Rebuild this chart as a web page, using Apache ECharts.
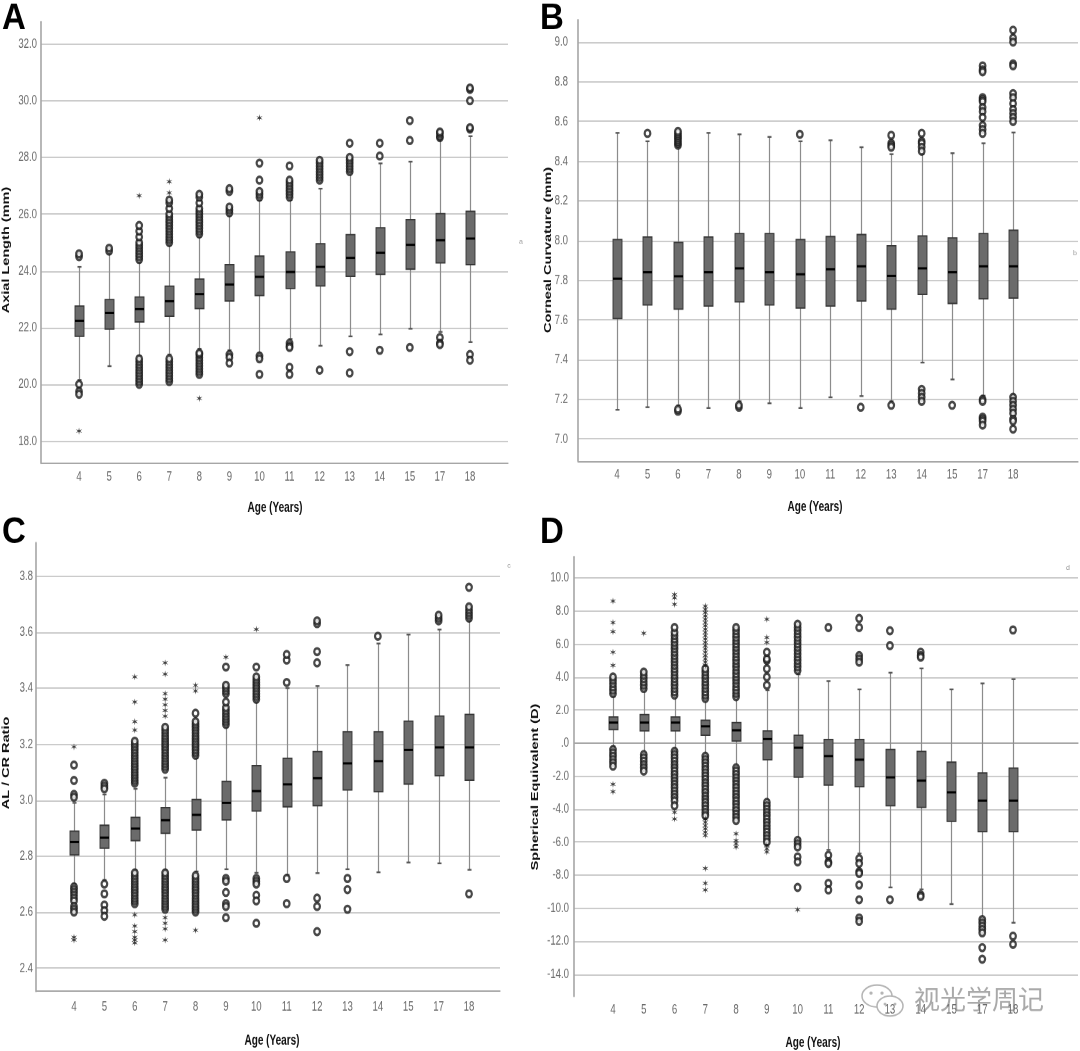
<!DOCTYPE html>
<html>
<head>
<meta charset="utf-8">
<script src="https://cdn.jsdelivr.net/npm/echarts@6/dist/echarts.min.js"></script>
<style>
html,body{margin:0;padding:0;background:#fff;overflow:hidden;}
#wrap{width:1080px;height:1051px;overflow:hidden;}
#c{width:1080px;transform-origin:0 0;}
</style>
</head>
<body>
<div id="wrap"><div id="c"></div></div>
<script>
// ---------- DATA ----------
const ages = ['4','5','6','7','8','9','10','11','12','13','14','15','17','18'];

// [lower whisker, Q1, median, Q3, upper whisker]
const alBox = [
  [20.15,21.69,22.24,22.76,24.14],[20.64,21.95,22.52,22.99,24.6],[21.0,22.2,22.65,23.08,24.3],
  [21.05,22.4,22.93,23.46,24.9],[21.25,22.67,23.18,23.71,25.2],[21.2,22.94,23.52,24.22,25.95],
  [21.1,23.13,23.79,24.52,26.5],[21.6,23.38,23.96,24.67,26.5],[21.36,23.47,24.14,24.96,26.9],
  [21.69,23.81,24.46,25.28,27.44],[21.76,23.88,24.64,25.52,27.79],[21.96,24.06,24.92,25.81,27.85],
  [21.85,24.28,25.08,26.02,28.79],[21.49,24.22,25.14,26.1,28.75]
];
const alCircles = [
  [24.5,24.6,20.0,19.75,19.65],
  [24.7,24.8],
  [24.4,24.5,24.6,24.7,24.8,24.9,25.0,25.2,25.4,25.6,20.0,20.1,20.2,20.3,20.4,20.5,20.6,20.7,20.8,20.9],
  [25.0,25.1,25.2,25.3,25.4,25.5,25.6,25.7,25.8,25.9,26.0,26.2,26.4,26.5,20.1,20.2,20.3,20.4,20.5,20.6,20.7,20.8,20.9],
  [25.3,25.4,25.5,25.6,25.7,25.8,25.9,26.0,26.1,26.2,26.4,26.6,26.7,20.35,20.45,20.55,20.65,20.75,20.85,20.95,21.05,21.1],
  [26.05,26.15,26.25,26.8,26.9,21.05,20.95,20.75],
  [26.6,26.7,26.8,27.2,27.8,21.0,20.9,20.35],
  [26.6,26.7,26.8,26.9,27.0,27.1,27.2,27.7,21.45,21.35,21.3,20.6,20.35],
  [27.2,27.3,27.4,27.5,27.6,27.7,27.8,27.9,20.5],
  [27.5,27.6,27.7,27.8,27.9,28.0,28.5,21.15,20.4],
  [28.05,28.5,21.2],
  [28.6,29.3,21.3],
  [28.7,28.75,28.85,28.9,21.65,21.45,21.4],
  [29.0,29.05,30.0,30.4,30.45,21.05,20.85]
];
const alStars = [[18.35],[],[26.65],[27.15,26.75],[19.5],[],[29.4],[],[],[],[],[],[],[]];

const ccBox = [
  [7.147,7.607,7.808,8.005,8.542],[7.16,7.675,7.84,8.018,8.50],[7.17,7.654,7.82,7.99,8.47],
  [7.156,7.67,7.84,8.018,8.542],[7.19,7.691,7.86,8.035,8.535],[7.18,7.675,7.84,8.035,8.522],
  [7.156,7.66,7.83,8.005,8.50],[7.21,7.67,7.855,8.02,8.505],[7.216,7.695,7.87,8.03,8.47],
  [7.19,7.654,7.822,7.974,8.435],[7.385,7.728,7.86,8.023,8.435],[7.30,7.683,7.84,8.013,8.44],
  [7.218,7.706,7.87,8.035,8.49],[7.223,7.71,7.87,8.052,8.544]
];
const ccCircles = [
  [],
  [8.54],
  [8.48,8.49,8.50,8.51,8.52,8.53,8.54,8.55,7.14,7.15],
  [],
  [7.16,7.17],
  [],
  [8.535],
  [],
  [7.16],
  [8.53,8.49,8.48,8.47,7.17],
  [8.54,8.50,8.49,8.47,8.45,7.25,7.23,7.21,7.19],
  [7.17],
  [8.88,8.86,8.85,8.72,8.71,8.70,8.67,8.65,8.62,8.58,8.56,8.54,7.20,7.19,7.11,7.10,7.09,7.07],
  [9.06,9.02,9.0,8.89,8.88,8.74,8.72,8.69,8.66,8.64,8.62,8.60,7.21,7.19,7.17,7.15,7.13,7.10,7.09,7.05]
];
const ccStars = [[],[],[],[],[],[],[],[],[],[],[],[],[],[]];

const arBox = [
  [2.70,2.804,2.85,2.889,2.99],[2.715,2.828,2.866,2.91,3.02],[2.75,2.855,2.898,2.938,3.04],
  [2.75,2.881,2.928,2.973,3.08],[2.745,2.893,2.947,3.002,3.15],[2.753,2.929,2.99,3.067,3.26],
  [2.74,2.961,3.032,3.123,3.35],[2.733,2.976,3.056,3.149,3.40],[2.739,2.98,3.078,3.173,3.407],
  [2.753,3.036,3.131,3.244,3.482],[2.742,3.03,3.139,3.244,3.559],[2.777,3.057,3.179,3.282,3.591],
  [2.774,3.087,3.188,3.30,3.609],[2.751,3.071,3.188,3.306,3.64]
];
const arCircles = [
  [3.125,3.07,3.02,3.01,2.69,2.68,2.67,2.66,2.65,2.64,2.62,2.61,2.60],
  [3.06,3.05,3.04,2.70,2.665,2.625,2.605,2.585],
  [3.06,3.07,3.08,3.09,3.10,3.11,3.12,3.13,3.14,3.15,3.16,3.17,3.18,3.19,3.20,3.21,
   2.63,2.64,2.65,2.66,2.67,2.68,2.69,2.70,2.71,2.72,2.73,2.74],
  [3.11,3.12,3.13,3.14,3.15,3.16,3.17,3.18,3.19,3.20,3.21,3.22,3.23,3.24,3.25,3.26,
   2.61,2.62,2.63,2.64,2.65,2.66,2.67,2.68,2.69,2.70,2.71,2.72,2.73,2.74],
  [3.16,3.17,3.18,3.19,3.20,3.21,3.22,3.23,3.24,3.25,3.26,3.27,3.28,3.31,
   2.60,2.61,2.62,2.63,2.64,2.65,2.66,2.67,2.68,2.69,2.70,2.71,2.72,2.73],
  [3.27,3.28,3.29,3.30,3.31,3.32,3.33,3.35,3.38,3.39,3.40,3.41,3.475,2.72,2.71,2.67,2.63,2.62,2.58],
  [3.36,3.37,3.38,3.39,3.40,3.41,3.42,3.43,3.44,3.475,2.72,2.71,2.70,2.66,2.64,2.56],
  [3.42,3.50,3.52,2.72,2.63],
  [3.49,3.53,3.63,3.64,2.65,2.62,2.53],
  [2.72,2.68,2.61],
  [3.585],
  [],
  [3.64,3.65,3.66],
  [3.65,3.66,3.67,3.68,3.69,3.76,2.665]
];
const arStars = [
  [3.19,2.51,2.50],
  [],
  [3.44,3.35,3.28,3.25,2.59,2.55,2.53,2.51,2.50,2.49],
  [3.49,3.45,3.38,3.36,3.34,3.32,3.30,2.58,2.56,2.54,2.50],
  [3.41,3.39,2.535],
  [3.51],
  [3.61],
  [],[],[],[],[],[],[]
];

const seBox = [
  [-0.2,0.81,1.24,1.58,2.8],[-0.6,0.73,1.24,1.72,3.2],[-0.4,0.73,1.24,1.58,2.8],
  [-0.7,0.47,1.01,1.38,2.6],[-1.4,0.12,0.77,1.24,2.7],[-3.45,-1.01,0.24,0.73,3.2],
  [-5.78,-2.07,-0.28,0.47,4.16],[-6.48,-2.55,-0.79,0.22,3.75],[-6.69,-2.65,-1.01,0.22,3.25],
  [-8.75,-3.8,-2.08,-0.39,4.26],[-8.87,-3.9,-2.28,-0.51,4.52],[-9.76,-4.75,-2.99,-1.16,3.25],
  [-10.6,-5.37,-3.49,-1.81,3.61],[-10.89,-5.37,-3.49,-1.52,3.87]
];
const seCircles = [
  [3.0,3.2,3.4,3.6,3.8,4.0,-0.4,-0.6,-0.8,-1.0,-1.2,-1.4],
  [3.3,3.5,3.7,3.9,4.1,4.3,-0.7,-0.9,-1.1,-1.3,-1.5,-1.7],
  [2.9,3.1,3.3,3.5,3.7,3.9,4.1,4.3,4.5,4.7,4.9,5.1,5.3,5.5,5.7,5.9,6.1,6.3,6.5,6.7,7.0,
   -0.5,-0.7,-0.9,-1.1,-1.3,-1.5,-1.7,-1.9,-2.1,-2.3,-2.5,-2.7,-2.9,-3.1,-3.3,-3.5,-3.8],
  [2.7,2.9,3.1,3.3,3.5,3.7,3.9,4.1,4.3,4.5,
   -0.8,-1.0,-1.2,-1.4,-1.6,-1.8,-2.0,-2.2,-2.4,-2.6,-2.8,-3.0,-3.2,-3.4,-3.6,-3.8,-4.0,-4.2,-4.4],
  [2.8,3.0,3.2,3.4,3.6,3.8,4.0,4.2,4.4,4.6,4.8,5.0,5.2,5.4,5.6,5.8,6.0,6.2,6.4,6.6,6.8,7.0,
   -1.5,-1.7,-1.9,-2.1,-2.3,-2.5,-2.7,-2.9,-3.1,-3.3,-3.5,-3.7,-3.9,-4.1,-4.3,-4.5,-4.7],
  [3.5,4.0,4.5,5.0,5.1,5.5,-3.6,-3.8,-4.0,-4.2,-4.4,-4.6,-4.8,-5.0,-5.2,-5.4,-5.6,-5.8,-6.0],
  [4.4,4.6,4.8,5.0,5.2,5.4,5.6,5.8,6.0,6.2,6.4,6.6,6.8,7.0,7.2,-5.9,-6.1,-6.3,-6.9,-7.2,-8.75],
  [7.0,-6.8,-7.2,-7.3,-8.5,-8.9],
  [7.55,7.0,5.3,5.1,4.9,-7.0,-7.3,-7.8,-7.9,-8.6,-9.5,-10.6,-10.8],
  [6.8,5.9,-9.5],
  [5.5,5.3,5.2,-9.2,-9.3],
  [],
  [-10.7,-10.9,-11.1,-11.3,-11.5,-12.4,-13.1],
  [6.85,-11.7,-12.2]
];
const seStars = [
  [8.6,7.3,6.75,5.5,4.7,-2.5,-2.95],
  [6.65],
  [9.0,8.8,8.4,-4.2,-4.6],
  [4.7,4.9,5.1,5.3,5.5,5.7,5.9,6.1,6.3,6.5,6.7,6.9,7.1,7.3,7.5,7.7,7.9,8.1,8.3,
   -4.6,-4.8,-5.0,-5.2,-5.4,-5.6,-7.6,-8.5,-8.9],
  [-5.5,-5.9,-6.1,-6.3],
  [7.5,6.4,6.1,-6.2,-6.4,-6.6],
  [-10.1],
  [],[],[],[],[],[],[]
];

// ---------- LAYOUT / STYLE ----------
// The original figure is a vertically stretched SPSS export: draw it at 1/SY height, then stretch.
const SY = 1.45;
const W = 1080, H = 1051;
const SANS = "'Liberation Sans',Arial,'DejaVu Sans',sans-serif";
const panels = [
  {letter:'A', lx:2,   ly:1,   frame:{left:41,  top:22,  width:467, height:441}, dataLeft:64,    dataWidth:421,
   min:17.224, max:32.776, step:2,   lblMargin:4,  catY:477, box:alBox, circles:alCircles, stars:alStars,
   yTitle:'Axial Length (mm)', yt:[6,250], xt:[275,508]},
  {letter:'B', lx:540, ly:1,   frame:{left:578, top:20,  width:500, height:441}, dataLeft:601.8, dataWidth:426.5,
   min:6.889, max:9.111, step:0.2,  lblMargin:10, catY:475, box:ccBox, circles:ccCircles, stars:ccStars,
   yTitle:'Corneal Curvature (mm)', yt:[548,250], xt:[815,507]},
  {letter:'C', lx:2,   ly:515, frame:{left:36,  top:543, width:464, height:448}, dataLeft:58.8,  dataWidth:425.4,
   min:2.318, max:3.918, step:0.2,  lblMargin:3,  catY:1007, box:arBox, circles:arCircles, stars:arStars,
   yTitle:'AL / CR Ratio', yt:[6,763], xt:[272,1041]},
  {letter:'D', lx:540, ly:515, frame:{left:574, top:557, width:504, height:439}, dataLeft:597.6, dataWidth:430.8,
   min:-15.33, max:11.27, step:2,   lblMargin:5,  catY:1010, box:seBox, circles:seCircles, stars:seStars,
   yTitle:'Spherical Equivalent (D)', yt:[535,787], xt:[813,1043]}
];
const LABEL_SIZE = 9.6;

const STAR = 'path://M10 0L11.5 7.4L18.66 5L13 10L18.66 15L11.5 12.6L10 20L8.5 12.6L1.34 15L7 10L1.34 5L8.5 7.4Z';

function fmtLabel(step) {
  return function (v) {
    const k = v / step;
    if (Math.abs(k - Math.round(k)) > 1e-6) return '';
    let s = (Math.round(k) * step).toFixed(1);
    if (s === '0.0' || s === '-0.0') s = '.0';
    return s;
  };
}

function renderBox(params, api) {
  const i = api.value(0);
  const pt = k => api.coord([i, api.value(k)]);
  const lo = pt(1), q1 = pt(2), md = pt(3), q3 = pt(4), hi = pt(5);
  const x = Math.round(md[0]) + 0.5, hw = 4.5, cw = 2;
  return {type: 'group', children: [
    {type: 'line', shape: {x1: x, y1: q3[1], x2: x, y2: hi[1]}, style: {stroke: '#8c8c8c', lineWidth: 1.2}},
    {type: 'line', shape: {x1: x, y1: q1[1], x2: x, y2: lo[1]}, style: {stroke: '#8c8c8c', lineWidth: 1.2}},
    {type: 'line', shape: {x1: x - cw, y1: hi[1], x2: x + cw, y2: hi[1]}, style: {stroke: '#555', lineWidth: 1.2}},
    {type: 'line', shape: {x1: x - cw, y1: lo[1], x2: x + cw, y2: lo[1]}, style: {stroke: '#555', lineWidth: 1.2}},
    {type: 'rect', shape: {x: x - hw, y: q3[1], width: 2 * hw, height: q1[1] - q3[1]},
     style: {fill: '#6b6b6b', stroke: '#363636', lineWidth: 0.9}},
    {type: 'line', shape: {x1: x - hw, y1: md[1], x2: x + hw, y2: md[1]}, style: {stroke: '#000', lineWidth: 1.5}}
  ]};
}

const grid = [], xAxis = [], yAxis = [], series = [], graphic = [];
const screenTexts = [];   // drawn in un-stretched (screen) coordinates
panels.forEach((p, n) => {
  const fg = n * 2, dg = n * 2 + 1;
  const top = p.frame.top / SY, height = p.frame.height / SY;
  grid.push({left: p.frame.left, top: top, width: p.frame.width, height: height});
  grid.push({left: p.dataLeft, top: top, width: p.dataWidth, height: height});
  // frame axes (axis lines, grid lines, value labels)
  xAxis.push({gridIndex: fg, type: 'value', min: 0, max: 1,
    axisLine: {show: true, lineStyle: {color: '#a6a6a6', width: 1.1}},
    axisTick: {show: false}, axisLabel: {show: false}, splitLine: {show: false}});
  yAxis.push({gridIndex: fg, type: 'value', min: p.min, max: p.max, minInterval: p.step, maxInterval: p.step,
    axisLine: {show: true, lineStyle: {color: '#a6a6a6', width: 1.6}},
    axisTick: {show: false},
    axisLabel: {show: true, formatter: fmtLabel(p.step), color: '#6a6a6a', fontSize: LABEL_SIZE,
      fontFamily: SANS, margin: p.lblMargin},
    splitLine: {show: true, showMinLine: false, showMaxLine: false, lineStyle: {color: '#cbcbcb', width: 1.1}}});
  // data axes (age categories)
  const bottomScreen = p.frame.top + p.frame.height;
  const catMargin = Math.max(0, (p.catY - bottomScreen) / SY - LABEL_SIZE * 0.55);
  xAxis.push({gridIndex: dg, type: 'category', data: ages, boundaryGap: true,
    axisLine: {show: false}, axisTick: {show: false}, splitLine: {show: false},
    axisLabel: {show: true, color: '#6a6a6a', fontSize: LABEL_SIZE, fontFamily: SANS, margin: catMargin, interval: 0}});
  yAxis.push({gridIndex: dg, type: 'value', min: p.min, max: p.max, show: false, splitLine: {show: false}});

  series.push({type: 'custom', xAxisIndex: dg, yAxisIndex: dg, clip: false, renderItem: renderBox,
    encode: {x: 0, y: [1, 2, 3, 4, 5]},
    data: ages.map((a, i) => [i].concat(p.box[i])), z: 2});
  const circ = [], stars = [];
  p.circles.forEach((arr, i) => arr.forEach(v => circ.push([i, v])));
  p.stars.forEach((arr, i) => arr.forEach(v => stars.push([i, v])));
  series.push({type: 'scatter', xAxisIndex: dg, yAxisIndex: dg, clip: false, data: circ,
    symbol: 'emptyCircle', symbolSize: [5.6, 4.6], itemStyle: {color: '#1a1a1a', borderWidth: 1.25}, z: 3});
  series.push({type: 'scatter', xAxisIndex: dg, yAxisIndex: dg, clip: false, data: stars,
    symbol: STAR, symbolSize: [6.2, 4.8], itemStyle: {color: '#111'}, z: 3});

  graphic.push({type: 'text', x: p.yt[0], y: p.yt[1] / SY, rotation: Math.PI / 2, z: 10,
    style: {text: p.yTitle, font: 'bold 10px ' + SANS, fill: '#111', align: 'center', verticalAlign: 'middle'}});
  graphic.push({type: 'text', x: p.xt[0], y: p.xt[1] / SY, z: 10,
    style: {text: 'Age (Years)', font: 'bold 10px ' + SANS, fill: '#111', align: 'center', verticalAlign: 'middle'}});
  screenTexts.push({type: 'text', x: p.lx, y: p.ly, scaleY: 1.1,
    style: {text: p.letter, font: 'bold 33px ' + SANS, fill: '#000', verticalAlign: 'top'}});
});

// small stray marks of the original figure
[['a', 521, 242], ['b', 1075, 253], ['c', 509, 566], ['d', 1068, 568]].forEach(t => {
  screenTexts.push({type: 'text', x: t[1], y: t[2],
    style: {text: t[0], font: '7px ' + SANS, fill: '#999', align: 'center', verticalAlign: 'middle'}});
});

// watermark
screenTexts.push(
  {type: 'ellipse', shape: {cx: 877, cy: 996, rx: 15, ry: 11}, style: {fill: '#fff', stroke: '#b5b5b5', lineWidth: 1.5}},
  {type: 'circle', shape: {cx: 871, cy: 993, r: 1.6}, style: {fill: '#b5b5b5'}},
  {type: 'circle', shape: {cx: 882, cy: 993, r: 1.6}, style: {fill: '#b5b5b5'}},
  {type: 'ellipse', shape: {cx: 890, cy: 1006, rx: 13, ry: 10}, style: {fill: '#fff', stroke: '#b5b5b5', lineWidth: 1.5}},
  {type: 'circle', shape: {cx: 885, cy: 1004, r: 1.4}, style: {fill: '#b5b5b5'}},
  {type: 'circle', shape: {cx: 895, cy: 1004, r: 1.4}, style: {fill: '#b5b5b5'}},
  {type: 'text', x: 979, y: 999, style: {text: '视光学周记', font: '26px "Noto Sans CJK SC"',
    fill: '#a9a9a9', stroke: '#ffffff', lineWidth: 2, align: 'center', verticalAlign: 'middle'}}
);
graphic.push({type: 'group', x: 0, y: 0, scaleY: 1 / SY, z: 20, children: screenTexts});

const el = document.getElementById('c');
el.style.height = (H / SY) + 'px';
el.style.transform = 'scaleY(' + SY + ')';
const chart = echarts.init(el, null, {renderer: 'canvas', devicePixelRatio: 2});
chart.setOption({
  animation: false,
  backgroundColor: '#ffffff',
  grid: grid, xAxis: xAxis, yAxis: yAxis, series: series, graphic: graphic
});
</script>
</body>
</html>
